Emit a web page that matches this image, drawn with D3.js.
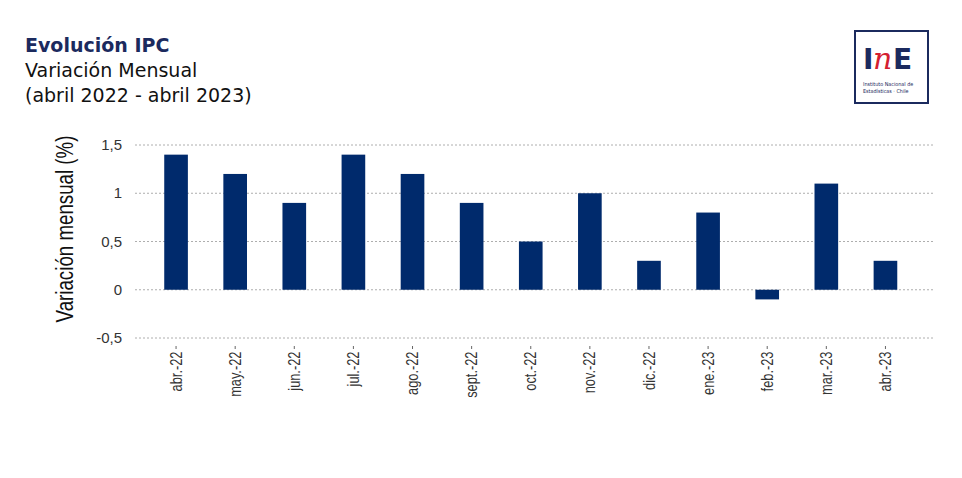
<!DOCTYPE html>
<html><head><meta charset="utf-8">
<script src="https://cdn.jsdelivr.net/npm/d3@7"></script>
<style>body{margin:0;background:#fff}</style></head>
<body><svg id="c" width="962" height="478"></svg>
<script>
const months = ['abr.-22','may.-22','jun.-22','jul.-22','ago.-22','sept.-22','oct.-22','nov.-22','dic.-22','ene.-23','feb.-23','mar.-23','abr.-23'];
const values = [1.4,1.2,0.9,1.4,1.2,0.9,0.5,1.0,0.3,0.8,-0.1,1.1,0.3];
const yTicks = [-0.5,0,0.5,1,1.5];
const yLabels = ['-0,5','0','0,5','1','1,5'];

const svg = d3.select('#c');
const navy = '#002a6c';
const x = d3.scaleBand().domain(months).range([146.5, 915]).paddingInner(0.6).paddingOuter(0.3);
const y = d3.scaleLinear().domain([-0.5, 1.5]).range([338, 145]);

// title block
svg.append('text').attr('x', 25).attr('y', 52).attr('font-family', 'DejaVu Sans, sans-serif')
  .attr('font-weight', 'bold').attr('font-size', 19).attr('fill', '#1b2a5e').text('Evolución IPC');
svg.append('text').attr('x', 25).attr('y', 77).attr('font-family', 'DejaVu Sans, sans-serif')
  .attr('font-size', 19).attr('fill', '#111').text('Variación Mensual');
svg.append('text').attr('x', 25).attr('y', 102).attr('font-family', 'DejaVu Sans, sans-serif')
  .attr('font-size', 19).attr('fill', '#111').text('(abril 2022 - abril 2023)');

// logo
const lg = svg.append('g').attr('transform', 'translate(855,31)');
lg.append('rect').attr('width', 73).attr('height', 72).attr('fill', '#fff').attr('stroke', '#1b2a5e').attr('stroke-width', 2);
lg.append('text').attr('x', 8).attr('y', 38).attr('font-family', 'DejaVu Sans, sans-serif').attr('font-weight', 'bold')
  .attr('font-size', 28).attr('fill', '#1b2a5e').text('I');
lg.append('text').attr('x', 18).attr('y', 38).attr('font-family', 'DejaVu Serif, serif').attr('font-style', 'italic')
  .attr('font-size', 30).attr('fill', '#d42030').text('n');
lg.append('text').attr('x', 38).attr('y', 38).attr('font-family', 'DejaVu Sans, sans-serif').attr('font-weight', 'bold')
  .attr('font-size', 28).attr('fill', '#1b2a5e').text('E');
lg.append('text').attr('x', 8).attr('y', 55).attr('font-family', 'DejaVu Sans Condensed, sans-serif').attr('font-size', 5.4)
  .attr('fill', '#1b2a5e').text('Instituto Nacional de');
lg.append('text').attr('x', 8).attr('y', 62).attr('font-family', 'DejaVu Sans Condensed, sans-serif').attr('font-size', 5.4)
  .attr('fill', '#1b2a5e').text('Estadísticas · Chile');

// grid
svg.append('g').selectAll('line').data(yTicks).join('line')
  .attr('x1', 135).attr('x2', 935).attr('y1', d => y(d)).attr('y2', d => y(d))
  .attr('stroke', '#999').attr('stroke-dasharray', '2,2').attr('stroke-width', 0.8);
svg.append('g').selectAll('text').data(yTicks).join('text')
  .attr('x', 122).attr('y', d => y(d) + 5).attr('text-anchor', 'end')
  .attr('font-family', 'Liberation Sans, Arial, sans-serif').attr('font-size', 15).attr('fill', '#333')
  .text((d, i) => yLabels[i]);

svg.append('text').attr('transform', 'translate(73,229) rotate(-90) scale(0.78,1)').attr('text-anchor', 'middle')
  .attr('font-family', 'Liberation Sans, sans-serif').attr('font-size', 24)
  .attr('fill', '#111').text('Variación mensual (%)');

// bars
svg.append('g').selectAll('rect').data(values).join('rect')
  .attr('x', (d, i) => x(months[i])).attr('width', x.bandwidth())
  .attr('y', d => y(Math.max(0, d))).attr('height', d => Math.abs(y(d) - y(0)))
  .attr('fill', navy);

// x axis
const xa = svg.append('g').attr('transform', 'translate(0,346)')
  .call(d3.axisBottom(x).tickSize(3).tickSizeOuter(0));
xa.select('.domain').remove();
xa.selectAll('.tick line').attr('stroke', '#666');
xa.selectAll('.tick text').attr('transform', 'rotate(-90) scale(0.8,1)').attr('text-anchor', 'end')
  .attr('x', -7).attr('y', 0).attr('dy', '0.35em')
  .attr('font-family', 'Liberation Sans, sans-serif').attr('font-size', 16)
  .attr('fill', '#333');
</script></body></html>
